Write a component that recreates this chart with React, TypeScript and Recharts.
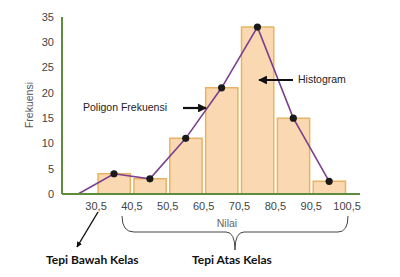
import React from 'react';
import { ComposedChart, Bar, Line, XAxis, YAxis } from 'recharts';

// class midpoints (nilai tengah), first one is the empty class for the polygon start
const midpoints = [25.5, 35.5, 45.5, 55.5, 65.5, 75.5, 85.5, 95.5];
const frequencies = [0, 4, 3, 11, 21, 33, 15, 2.5];
const boundaryTicks = [30.5, 40.5, 50.5, 60.5, 70.5, 80.5, 90.5, 100.5];
const yTicks = [0, 5, 10, 15, 20, 25, 30, 35];

const data = midpoints.map((m, i) => ({
  mid: m,
  freq: i === 0 ? null : frequencies[i],
  poly: frequencies[i],
}));

const AXIS_GREEN = '#5e8c3f';
const tickStyle = { fontFamily: '"Liberation Sans", Arial, sans-serif', fontSize: 11, fill: '#444' };

const PolyDot = (props: any) => {
  const { cx, cy, index } = props;
  if (index === 0) return <g key={`d-${index}`} />;
  return <circle key={`d-${index}`} cx={cx} cy={cy} r={3.6} fill="#1a1a1a" />;
};

export default function App() {
  return (
    <div style={{ position: 'absolute', left: 0, top: 0, width: 400, height: 277, background: '#fff' }}>
      <ComposedChart
        width={400}
        height={277}
        data={data}
        margin={{ top: 17, right: 40, bottom: 53, left: 22 }}
      >
        <XAxis
          dataKey="mid"
          type="number"
          domain={[21, 104.1]}
          ticks={boundaryTicks}
          allowDataOverflow
          tickLine={false}
          axisLine={{ stroke: AXIS_GREEN, strokeWidth: 2 }}
          tick={tickStyle}
          tickFormatter={(v: number) => String(v).replace('.', ',')}
          height={30}
        />
        <YAxis
          domain={[0, 35]}
          ticks={yTicks}
          tickLine={false}
          axisLine={{ stroke: AXIS_GREEN, strokeWidth: 2 }}
          tick={tickStyle}
          width={40}
        />
        <Bar
          dataKey="freq"
          barSize={36}
          fill="#fad8b2"
          stroke="#e8b463"
          strokeWidth={1.5}
          isAnimationActive={false}
        />
        <Line
          dataKey="poly"
          type="linear"
          stroke="#7d3f8e"
          strokeWidth={1.6}
          dot={PolyDot}
          activeDot={false}
          isAnimationActive={false}
        />
      </ComposedChart>
      <svg
        width={400}
        height={277}
        style={{ position: 'absolute', left: 0, top: 0, pointerEvents: 'none' }}
      >
        <defs>
          <marker id="ah" viewBox="0 0 10 10" refX="9" refY="5" markerWidth="4" markerHeight="4" orient="auto">
            <path d="M0,0 L10,5 L0,10 z" fill="#111" />
          </marker>
        </defs>
        <text
          x={29}
          y={105}
          transform="rotate(-90 29 105)"
          textAnchor="middle"
          dominantBaseline="central"
          style={{ fontFamily: '"Liberation Sans", Arial, sans-serif', fontSize: 10.5, fill: '#555' }}
        >
          Frekuensi
        </text>
        <text
          x={227}
          y={223}
          textAnchor="middle"
          dominantBaseline="central"
          style={{ fontFamily: '"Liberation Sans", Arial, sans-serif', fontSize: 10.5, fill: '#666' }}
        >
          Nilai
        </text>
        <text
          x={83}
          y={107}
          dominantBaseline="central"
          style={{ fontFamily: '"Liberation Sans", Arial, sans-serif', fontSize: 10.5, fill: '#222' }}
        >
          Poligon Frekuensi
        </text>
        <line x1={183} y1={108} x2={206} y2={108} stroke="#111" strokeWidth={2.2} markerEnd="url(#ah)" />
        <text
          x={298}
          y={79}
          dominantBaseline="central"
          style={{ fontFamily: '"Liberation Sans", Arial, sans-serif', fontSize: 10.5, fill: '#222' }}
        >
          Histogram
        </text>
        <line x1={293} y1={80} x2={259} y2={80} stroke="#111" strokeWidth={2.2} markerEnd="url(#ah)" />
        <line x1={98} y1={212} x2={77} y2={247} stroke="#111" strokeWidth={1.4} markerEnd="url(#ah)" />
        <path
          d="M122,216 Q122,232 134,232 L226,232 Q235,232 235,250 Q235,232 244,232 L338,232 Q348,232 348,216"
          fill="none"
          stroke="#444"
          strokeWidth={1}
        />
        <text
          x={46}
          y={259}
          dominantBaseline="central"
          style={{ fontFamily: 'Lato, "Open Sans", sans-serif', fontWeight: 700, fontSize: 12, fill: '#111' }}
        >
          Tepi Bawah Kelas
        </text>
        <text
          x={192}
          y={259}
          dominantBaseline="central"
          style={{ fontFamily: 'Lato, "Open Sans", sans-serif', fontWeight: 700, fontSize: 12, fill: '#111' }}
        >
          Tepi Atas Kelas
        </text>
      </svg>
    </div>
  );
}
